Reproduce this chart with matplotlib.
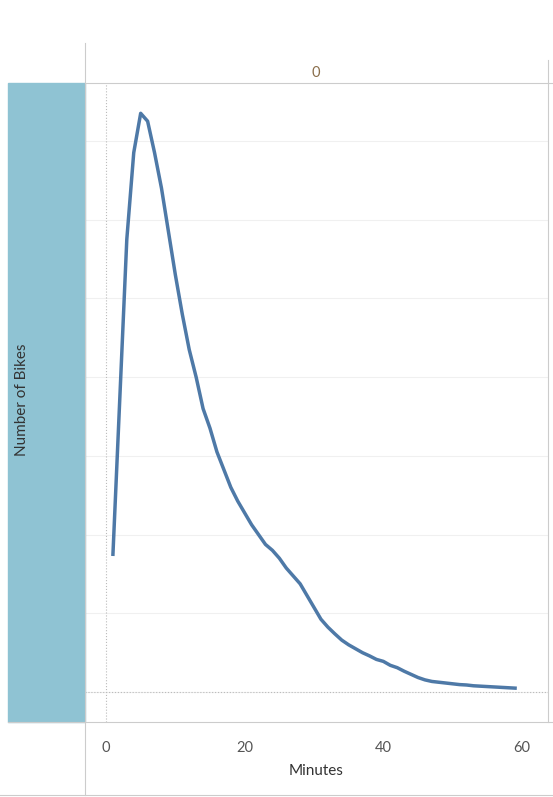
import numpy as np
import matplotlib.pyplot as plt
from matplotlib.lines import Line2D
from matplotlib.patches import Rectangle

minutes = list(range(1, 60))
bikes_k = [35, 75, 115, 137, 147, 145, 137, 128, 117, 106, 96, 87, 80, 72, 67, 61,
           56.5, 52, 48.5, 45.5, 42.5, 40, 37.5, 36, 34, 31.5, 29.5, 27.5, 24.5, 21.5,
           18.5, 16.5, 14.8, 13.2, 12, 11, 10, 9.2, 8.3, 7.8, 6.8, 6.2, 5.3, 4.5, 3.7,
           3.1, 2.7, 2.5, 2.3, 2.1, 1.9, 1.8, 1.6, 1.5, 1.4, 1.3, 1.2, 1.1, 1.0]
yticks = [0, 20, 40, 60, 80, 100, 120, 140]
xticks = [0, 20, 40, 60]

W, H = 553, 797
fig = plt.figure(figsize=(W / 100, H / 100), dpi=100)
plt.rcParams['font.family'] = ['Lato', 'DejaVu Sans']

def fx(px):
    return px / W

def fy(py):
    return 1 - py / H

# blue side panel
fig.patches.append(Rectangle((fx(8), fy(722)), fx(85) - fx(8), fy(83) - fy(722),
                             transform=fig.transFigure, color='#8fc3d3', zorder=0))

ax = fig.add_axes([fx(85), fy(722), fx(548) - fx(85), fy(83) - fy(722)])
ax.plot(minutes, [v * 1000 for v in bikes_k], color='#4e79a7', lw=2.5)
ax.set_xlim(-3.03, 63.75)
ax.set_ylim(-7600, 154700)
ax.set_yticks([v * 1000 for v in yticks])
ax.set_yticklabels([f'{v}K' for v in yticks])
ax.set_xticks(xticks)
ax.tick_params(axis='y', length=4, color='#999999', labelcolor='#555555', labelsize=10.5)
ax.tick_params(axis='x', length=0, labelcolor='#555555', labelsize=10.5, pad=14)
for s in ax.spines.values():
    s.set_visible(False)
ax.grid(axis='y', color='#f0f0f0', lw=0.8)
ax.set_axisbelow(True)
ax.axhline(0, color='#bbbbbb', lw=0.8, ls=':')
ax.axvline(0, color='#bbbbbb', lw=0.8, ls=':')
ax.set_xlabel('Minutes', color='#333333', fontsize=11, labelpad=6)

fig.text(fx(22), fy(400), 'Number of Bikes', rotation=90, ha='center', va='center',
         color='#333333', fontsize=11)
fig.text(fx(316), fy(73), '0', ha='center', va='center', color='#8a6e4b', fontsize=10.5)

frame = '#cccccc'
segs = [((85, 85), (43, 795)), ((85, 553), (83, 83)), ((8, 553), (722, 722)),
        ((0, 553), (795, 795)), ((548, 548), (60, 722))]
for xs, ys in segs:
    fig.lines.append(Line2D([fx(x) for x in xs], [fy(y) for y in ys],
                            transform=fig.transFigure, color=frame, lw=0.8))

fig.savefig('out.png', dpi=100)
